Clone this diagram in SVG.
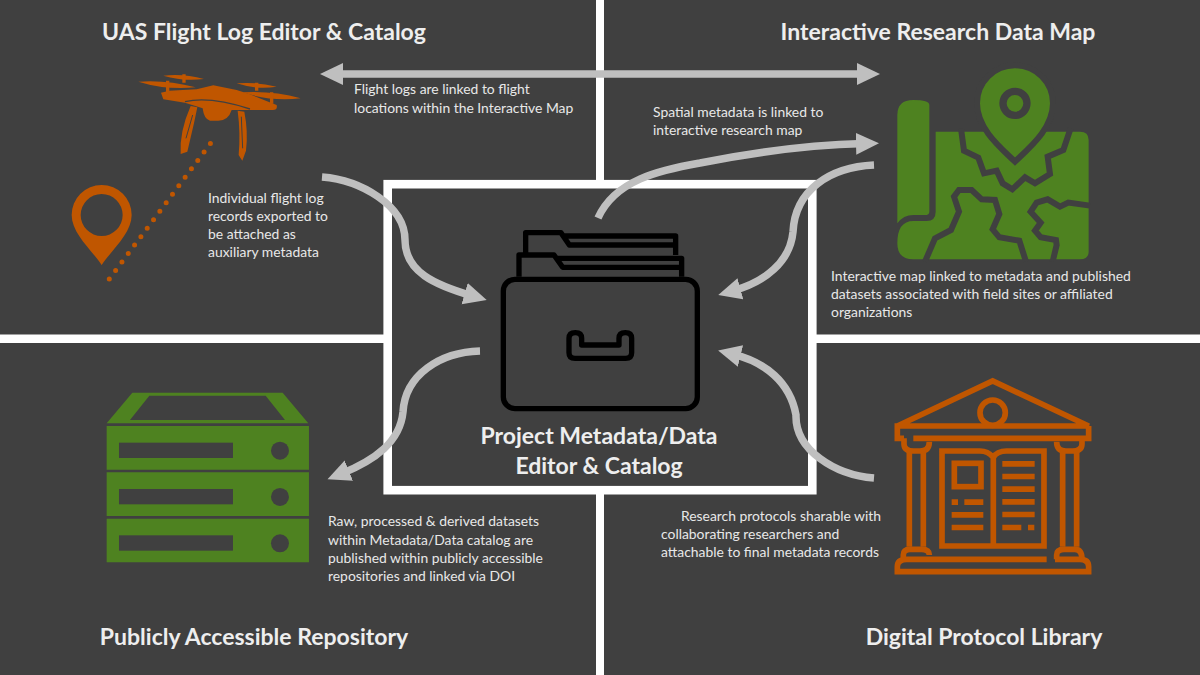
<svg xmlns="http://www.w3.org/2000/svg" width="1200" height="675" viewBox="0 0 1200 675">
<style>
text{font-family:"Lato","Open Sans","Liberation Sans",sans-serif;fill:#e8e8e8}
.t{font-size:23px;font-weight:700;text-anchor:middle;fill:#eeeeee}
.c{font-size:13.9px}
.a{fill:none;stroke:#bfbfbf;stroke-width:7.500;marker-end:url(#h)}
.o{fill:#c05600}
.g{fill:#4e8220}
.d{fill:#404040}
.l{fill:none;stroke:#c05600;stroke-width:17}
.k{fill:none;stroke:#000;stroke-width:16;stroke-linejoin:round}
</style>
<defs>
<marker id="h" markerUnits="userSpaceOnUse" markerWidth="24" markerHeight="24" refX="8" refY="11" orient="auto"><path d="M0 0L23 11L0 22Z" fill="#bfbfbf"/></marker>
<marker id="s" markerUnits="userSpaceOnUse" markerWidth="24" markerHeight="24" refX="15" refY="11" orient="auto"><path d="M23 0L0 11L23 22Z" fill="#bfbfbf"/></marker>
</defs>
<rect width="1200" height="675" fill="#404040"/>
<g id="frame" fill="#fff">
<rect x="596" y="0" width="8" height="185"/><rect x="596" y="490" width="8" height="185"/>
<rect x="0" y="334.500" width="390" height="8.500"/><rect x="810" y="334.500" width="390" height="8.500"/>
<rect x="387.700" y="184.200" width="424.600" height="306" fill="none" stroke="#fff" stroke-width="8.600"/>
</g>
<g id="connectors">
<path class="a" style="marker-start:url(#s)" d="M335 74H865"/>
<path class="a" d="M322 177C360 180 405 205 405 240C405 272 435 285 472.300 295.900"/>
<path class="a" d="M598 218C615 180 660 170 700 163C750 153 810 145 864 143.600"/>
<path class="a" d="M874 165C830 167 795 190 793 232C790 262 765 282 732.700 290.900"/>
<path class="a" d="M480 351C440 352 405 375 403 412C400 442 375 460 341.400 473.700"/>
<path class="a" d="M874 478C835 475 795 450 796 415C790 382 765 362 732.700 354.100"/>
</g>
<g id="uas-node">
<g transform="translate(50 60) scale(.3333)">
<path class="o" d="M340 47Q400 40 462 57Q400 65 340 47ZM265 65Q350 59 437 82Q350 91 265 65ZM560 70Q620 65 680 80Q620 90 560 70ZM578 97Q670 92 752 115Q660 125 578 97Z"/>
<path class="o" d="M397 43h10v25h-10zM348 62h10v35h-10zM615 68h10v24h-10zM660 97h10v34h-10z"/>
<path class="o" d="M333 98L358 92L440 88L490 76L560 90L600 103L655 125L680 135Q684 152 665 150L600 150L545 150Q535 182 505 182H480Q462 178 458 145L405 128L340 118Z"/>
<path d="M405 125Q480 108 600 147" fill="none" stroke="#404040" stroke-width="4"/>
<path class="o" d="M422 138L442 142L432 190L412 275L392 282Q388 215 422 138ZM563 152L583 155Q595 215 588 272L577 302L566 285Q572 220 563 152Z"/>
<path d="M428 165L408 235M574 170L578 265" fill="none" stroke="#404040" stroke-width="3"/>
<path class="o" fill-rule="evenodd" d="M155 615C125 570 65 520 65 465A90 90 0 0 1 245 465C245 520 185 570 155 615ZM155 402A63 63 0 1 0 155 528A63 63 0 1 0 155 402Z"/>
</g>
<line x1="109.300" y1="279" x2="216.700" y2="135" stroke="#c05600" stroke-width="5" stroke-linecap="round" stroke-dasharray="0 10.570"/>
<text class="t" x="264" y="40">UAS Flight Log Editor &amp; Catalog</text>
<text class="c" x="354" y="94">Flight logs are linked to flight</text>
<text class="c" x="354" y="113">locations within the Interactive Map</text>
<text class="c" x="208" y="203">Individual flight log</text>
<text class="c" x="208" y="221">records exported to</text>
<text class="c" x="208" y="239">be attached as</text>
<text class="c" x="208" y="257">auxiliary metadata</text>
</g>
<g id="map-node">
<g transform="translate(880 60) scale(.3333)">
<path class="g" d="M52 490V165Q52 120 100 120Q148 120 148 135V455Q148 465 135 465H100Q70 465 52 490Z"/>
<path class="g" d="M167 215H600Q626 215 626 240V575Q626 598 600 598H100Q52 598 52 550Q52 483 100 483H140Q167 483 167 455Z"/>
<path d="M243 205L252 272L295 293L312 340L350 332L368 370L397 388L435 352L465 370L510 342L503 290L550 270L572 205M135 605L165 535L213 510L237 455L222 410L237 390L275 390L305 418L345 420L358 462L338 508L358 532L418 542L438 605M630 437L565 428L540 440L503 418L470 428L452 455L482 488L465 512L482 532L528 540L530 555L518 605" fill="none" stroke="#404040" stroke-width="18"/>
<path class="g" stroke="#404040" stroke-width="18" d="M405 305C360 262 291 205 291 130A114 114 0 0 1 519 130C519 205 450 262 405 305Z"/>
<circle cx="405" cy="130" r="36" fill="none" stroke="#404040" stroke-width="22"/>
</g>
<text class="t" x="938" y="40">Interactive Research Data Map</text>
<text class="c" x="653" y="117">Spatial metadata is linked to</text>
<text class="c" x="653" y="135">interactive research map</text>
<text class="c" x="831" y="281">Interactive map linked to metadata and published</text>
<text class="c" x="831" y="299">datasets associated with field sites or affiliated</text>
<text class="c" x="831" y="317">organizations</text>
</g>
<g id="repository-node">
<g transform="translate(90 380) scale(.3333)">
<path class="g" fill-rule="evenodd" d="M127 38H578L655 130H50ZM178 47L120 120H585L527 47Z"/>
<g><path class="g" d="M50 138H657V269H50Z"/><rect class="d" x="87" y="188" width="342" height="46"/><circle class="d" cx="570" cy="212" r="27"/></g>
<g transform="translate(0 139)"><path class="g" d="M50 138H657V269H50Z"/><rect class="d" x="87" y="188" width="342" height="46"/><circle class="d" cx="570" cy="212" r="27"/></g>
<g transform="translate(0 278)"><path class="g" d="M50 138H657V269H50Z"/><rect class="d" x="87" y="188" width="342" height="46"/><circle class="d" cx="570" cy="212" r="27"/></g>
</g>
<text class="t" x="254" y="645">Publicly Accessible Repository</text>
<text class="c" x="328" y="526">Raw, processed &amp; derived datasets</text>
<text class="c" x="328" y="545">within Metadata/Data catalog are</text>
<text class="c" x="328" y="563">published within publicly accessible</text>
<text class="c" x="328" y="581">repositories and linked via DOI</text>
</g>
<g id="library-node">
<g transform="translate(880 370) scale(.3333)">
<path class="l" d="M52 168L338 33L626 168H52V205H72M626 168V205H100"/>
<circle cx="338" cy="128" r="38" stroke="#c05600" stroke-width="17" fill="#404040"/>
<path class="l" d="M72 205V222Q72 243 100 243H120Q148 243 148 215M606 205V222Q606 243 578 243H558Q530 243 530 215"/>
<path class="l" d="M88 243V530M130 243V530M548 243V530M590 243V530"/>
<path class="l" d="M70 568V555Q70 538 90 538H125Q148 538 148 555M530 568V555Q530 538 552 538H585Q606 538 606 568"/>
<path class="l" d="M500 568H80Q52 568 52 590V605H626V590Q626 568 600 568H525"/>
<path class="l" d="M340 262C325 245 310 243 300 243H186V528H492V243H380C370 243 350 245 340 262V528"/>
<rect x="223" y="280" width="80" height="70" fill="none" stroke="#c05600" stroke-width="17"/>
<path class="o" d="M215 388h19v17h-19zM253 388h57v17h-57zM215 426h95v17h-95zM215 464h95v17h-95zM367 273h97v17h-97zM367 311h97v17h-97zM367 349h97v17h-97zM367 387h97v17h-97zM367 425h97v17h-97zM367 464h57v17h-57zM444 464h19v17h-19z"/>
</g>
<text class="t" x="984" y="645">Digital Protocol Library</text>
<text class="c" x="681" y="521">Research protocols sharable with</text>
<text class="c" x="661" y="539">collaborating researchers and</text>
<text class="c" x="661" y="557">attachable to final metadata records</text>
</g>
<g id="catalog-node">
<g transform="translate(480 210) scale(.3333)">
<rect class="k" x="70" y="208" width="582" height="388" rx="35"/>
<path class="k" d="M305 405V385Q305 368 286 368Q267 368 267 385V428Q267 445 285 445H437Q455 445 455 428V385Q455 368 436 368Q417 368 417 385V405Z"/>
<path class="k" d="M137 130V68H243L268 105H580M250 78H587V135"/>
<path class="k" d="M117 200V135H222L248 172H605M230 145H605V200"/>
</g>
<text class="t" x="599" y="444">Project Metadata/Data</text>
<text class="t" x="599" y="474">Editor &amp; Catalog</text>
</g>
</svg>
